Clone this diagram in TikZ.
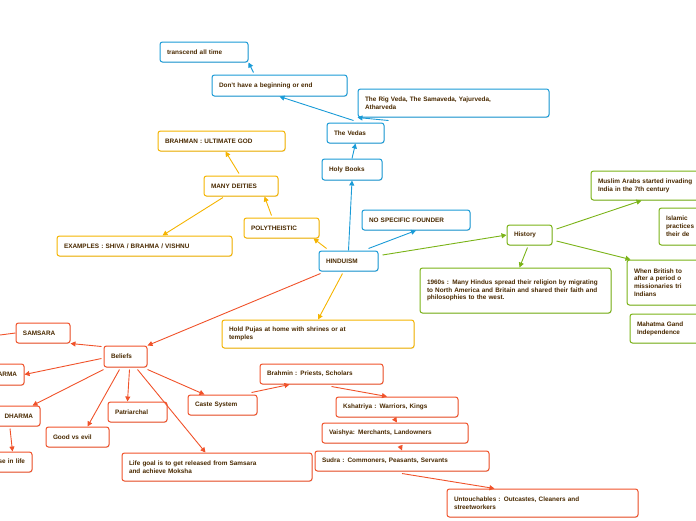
\documentclass[tikz,border=0pt]{standalone}
\usepackage{fontspec}
\setmainfont{Liberation Sans}
\usetikzlibrary{arrows.meta,shadows,calc}
\definecolor{cb}{HTML}{1A9BD7}
\definecolor{cy}{HTML}{F5B400}
\definecolor{cg}{HTML}{7AB317}
\definecolor{co}{HTML}{F0522A}
\definecolor{tx}{HTML}{4A2A00}
\begin{document}
\begin{tikzpicture}[x=1pt,y=-1pt,
 bx/.style={draw=#1,fill=white,rounded corners=2.5pt,line width=1pt,inner sep=0pt,
   font=\fontsize{6.4}{7.8}\selectfont\bfseries,text=tx,align=left,
   drop shadow={shadow xshift=0.6pt,shadow yshift=-0.8pt,opacity=0.25}},
 ar/.style={draw=#1,line width=0.9pt,-{Triangle[length=5pt,width=5pt]}}]
\useasboundingbox (0,0) rectangle (696,520);
\clip (0,0) rectangle (696,520);
\newcommand\bxn[7]{\node[bx=#1,minimum width={#4-#2},minimum height={#5-#3},text width={#4-#2-14}] (#6) at ({(#2+#4)/2},{(#3+#5)/2}) {#7};}
% blue
\bxn{cb}{160}{42}{248}{62}{tat}{transcend all time}
\bxn{cb}{212}{75}{347}{96}{dhb}{Don't have a beginning or end}
\bxn{cb}{358}{89}{549}{117}{rig}{The Rig Veda, The Samaveda, Yajurveda,\\Atharveda}
\bxn{cb}{327}{123}{384}{143}{ved}{The Vedas}
\bxn{cb}{322}{159}{382}{180}{hb}{Holy Books}
\bxn{cb}{362}{210}{470}{230}{nsf}{NO SPECIFIC FOUNDER}
\bxn{cb}{319}{251}{378}{271}{hin}{HINDUISM}
% yellow
\bxn{cy}{158}{131}{285}{151}{brh}{BRAHMAN : ULTIMATE GOD}
\bxn{cy}{204}{176}{278}{196}{md}{MANY DEITIES}
\bxn{cy}{244}{218}{319}{238}{pol}{POLYTHEISTIC}
\bxn{cy}{57}{236}{232}{256}{ex}{EXAMPLES : SHIVA / BRAHMA / VISHNU}
\bxn{cy}{222}{320}{414}{348}{puj}{Hold Pujas at home with shrines or at\\temples}
% green
\bxn{cg}{507}{225}{552}{245}{his}{History}
\bxn{cg}{591}{171}{712}{200}{mus}{Muslim Arabs started invading\\India in the 7th century}
\bxn{cg}{659}{208}{760}{245}{isl}{Islamic\\practices\\their de}
\bxn{cg}{420}{268}{611}{313}{six}{1960s : Many Hindus spread their religion by migrating to North America and Britain and shared their faith and philosophies to the west.}
\bxn{cg}{627}{260}{760}{305}{bri}{When British to\\after a period o\\missionaries tri\\Indians}
\bxn{cg}{630}{314}{760}{343}{gan}{Mahatma Gand\\Independence}
% orange
\bxn{co}{104}{346}{147}{367}{bel}{Beliefs}
\bxn{co}{16}{323}{70}{343}{sam}{SAMSARA}
\bxn{co}{-40}{364}{24}{385}{kar}{\hfill KARMA}
\bxn{co}{-40}{406}{40}{426}{dha}{\hfill DHARMA}
\bxn{co}{-60}{452}{32}{472}{pil}{\hfill Purpose in life}
\bxn{co}{46}{427}{109}{447}{gve}{Good vs evil}
\bxn{co}{108}{402}{167}{422}{pat}{Patriarchal}
\bxn{co}{188}{395}{257}{415}{cas}{Caste System}
\bxn{co}{122}{453}{312}{481}{lg}{Life goal is to get released from Samsara\\and achieve Moksha}
\bxn{co}{260}{364}{383}{384}{bra}{Brahmin : Priests, Scholars}
\bxn{co}{336}{397}{458}{417}{ksh}{Kshatriya : Warriors, Kings}
\bxn{co}{322}{423}{468}{443}{vai}{Vaishya: Merchants, Landowners}
\bxn{co}{315}{451}{489}{471}{sud}{Sudra : Commoners, Peasants, Servants}
\bxn{co}{447}{489}{638}{517}{unt}{Untouchables : Outcastes, Cleaners and\\streetworkers}
\coordinate (off) at (0,335);
% edges
\draw[ar=cb] ($(dhb.north west)+(42,-2)$) -- (tat.south east);
\draw[ar=cb] ($(ved.north)+(-2,-2)$) -- (dhb.south);
\draw[ar=cb] ($(ved.north east)+(4,-2)$) -- (rig.south west);
\draw[ar=cb] (hb.north) -- (ved.south);
\draw[ar=cb] (hin.north) -- (hb.south);
\draw[ar=cb] ($(hin.north east)+(-10,-2)$) -- (nsf.south);
\draw[ar=cy] ($(hin.north west)+(8,-2)$) -- ($(pol.south east)+(-6,0)$);
\draw[ar=cy] ($(pol.north)+(-10,-2)$) -- ($(md.south east)+(-14,0)$);
\draw[ar=cy] ($(md.north)+(-2,-2)$) -- ($(brh.south)+(4,0)$);
\draw[ar=cy] ($(md.south)+(-18,1)$) -- ($(ex.north east)+(-70,0)$);
\draw[ar=cy] ($(hin.south)+(-6,2)$) -- (puj.north);
\draw[ar=cg] ($(hin.east)+(4,-6)$) -- (his.west);
\draw[ar=cg] ($(his.east)+(4,-6)$) -- ($(mus.south)+(-10,0)$);
\draw[ar=cg] ($(his.east)+(4,6)$) -- ($(bri.north west)+(4,0)$);
\draw[ar=cg] ($(his.south)+(-2,2)$) -- ($(six.north west)+(100,0)$);
\draw[ar=co] ($(hin.south west)+(2,2)$) -- (bel.north east);
\draw[ar=co] ($(bel.west)+(-2,-10)$) -- (sam.south east);
\draw[ar=co] ($(bel.west)+(-2,2)$) -- (kar.east);
\draw[ar=co] ($(bel.south west)+(0,2)$) -- ($(dha.north east)+(-8,0)$);
\draw[ar=co] ($(bel.south)+(-6,2)$) -- ($(gve.north east)+(-22,0)$);
\draw[ar=co] ($(bel.south)+(4,2)$) -- ($(pat.north)+(-10,0)$);
\draw[ar=co] ($(bel.south east)+(0,2)$) -- ($(cas.north)+(-18,0)$);
\draw[ar=co] ($(bel.south east)+(-10,2)$) -- ($(lg.north west)+(84,0)$);
\draw[ar=co] ($(cas.north east)+(-6,-2)$) -- ($(bra.south west)+(30,0)$);
\draw[ar=co] ($(bra.south)+(10,2)$) -- ($(ksh.north)+(-10,0)$);
\draw[ar=co] ($(ksh.south)+(-2,2)$) -- ($(vai.north)+(2,0)$);
\draw[ar=co] ($(vai.south)+(5,2)$) -- ($(sud.north)+(0,0)$);
\draw[ar=co] ($(sud.south)+(0,2)$) -- ($(unt.north west)+(48,0)$);
\draw[co,line width=0.9pt] (sam.west) -- (off);
\draw[ar=co] ($(dha.south)+(10,2)$) -- ($(pil.north east)+(-20,0)$);
\end{tikzpicture}
\end{document}
